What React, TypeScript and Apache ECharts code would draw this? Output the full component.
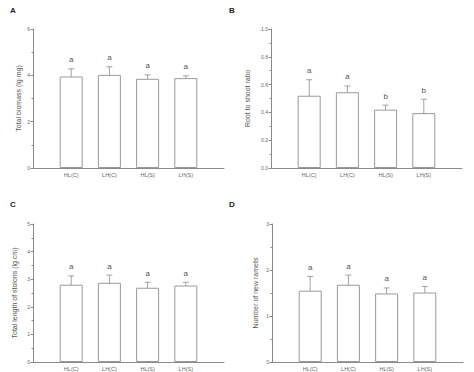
import React, { useEffect, useRef } from "react";
import * as echarts from "echarts";

const categories = ["HL(C)", "LH(C)", "HL(S)", "LH(S)"];
const xPositions = [1, 2, 3, 4];

const biomass = [3.95, 4.02, 3.85, 3.88];
const biomassErr = [0.33, 0.35, 0.17, 0.1];
const biomassLetters = ["a", "a", "a", "a"];

const rootShoot = [0.52, 0.545, 0.42, 0.395];
const rootShootErr = [0.115, 0.045, 0.032, 0.1];
const rootShootLetters = ["a", "a", "b", "b"];

const stolonLength = [2.8, 2.87, 2.69, 2.77];
const stolonLengthErr = [0.32, 0.28, 0.2, 0.12];
const stolonLetters = ["a", "a", "a", "a"];

const newRamets = [1.55, 1.68, 1.49, 1.51];
const newRametsErr = [0.31, 0.21, 0.12, 0.13];
const rametLetters = ["a", "a", "a", "a"];

const panelLetters = ["A", "B", "C", "D"];
const yNames = [
  "Total biomass (lg mg)",
  "Root to shoot ratio",
  "Total length of stolons (lg cm)",
  "Number of new ramets",
];
const yMax = [6, 1.0, 5, 3];
const yInterval = [2, 0.2, 1, 1];

const FONT = "Liberation Sans, Arial, sans-serif";
const AXIS = "#8a8a8a";
const TEXT = "#666";

export default function App() {
  const ref = useRef<HTMLDivElement>(null);
  useEffect(() => {
    if (!ref.current) return;
    const chart = echarts.init(ref.current, null, { renderer: "svg" });
    const values = [biomass, rootShoot, stolonLength, newRamets];
    const errs = [biomassErr, rootShootErr, stolonLengthErr, newRametsErr];
    const letters = [biomassLetters, rootShootLetters, stolonLetters, rametLetters];
    const grids = [
      { left: 33, top: 29, width: 191, height: 139 },
      { left: 271, top: 29, width: 191, height: 139 },
      { left: 33, top: 224, width: 191, height: 139 },
      { left: 272, top: 224, width: 191, height: 139 },
    ];
    const nameGaps = [11, 20, 15, 13];
    const labelPos = [
      [10, 6],
      [229, 6],
      [10, 200],
      [229, 200],
    ];
    const xAxis = grids.map((_, i) => ({
      type: "value",
      gridIndex: i,
      min: 0,
      max: 5,
      interval: 1,
      axisLine: { lineStyle: { color: AXIS, width: 1 } },
      axisTick: { show: false },
      splitLine: { show: false },
      axisLabel: {
        fontSize: 5.5,
        color: TEXT,
        fontFamily: FONT,
        margin: 4,
        formatter: (v: number) => categories[xPositions.indexOf(v)] ?? "",
      },
    }));
    const yAxis = grids.map((_, i) => ({
      type: "value",
      gridIndex: i,
      min: 0,
      max: yMax[i],
      interval: yInterval[i],
      name: yNames[i],
      nameLocation: "middle",
      nameRotate: 90,
      nameGap: nameGaps[i],
      nameTextStyle: { fontSize: 7, color: "#555", fontFamily: FONT },
      axisLine: { show: true, lineStyle: { color: AXIS, width: 1 } },
      axisTick: { show: true, length: 2.5, lineStyle: { color: AXIS } },
      minorTick: { show: true, splitNumber: 2, length: 1.5, lineStyle: { color: AXIS } },
      splitLine: { show: false },
      axisLabel: {
        fontSize: 5,
        color: TEXT,
        fontFamily: FONT,
        margin: 3,
        formatter: (v: number) => (i === 1 ? v.toFixed(1) : String(v)),
      },
    }));
    const series: any[] = [];
    values.forEach((vals, i) => {
      series.push({
        type: "bar",
        xAxisIndex: i,
        yAxisIndex: i,
        barWidth: 23,
        data: vals.map((v, k) => [xPositions[k], v]),
        itemStyle: { color: "#fff", borderColor: "#999", borderWidth: 1 },
      });
      series.push({
        type: "custom",
        xAxisIndex: i,
        yAxisIndex: i,
        itemStyle: { color: "#555" },
        data: vals.map((v, k) => [xPositions[k], v, errs[i][k], k]),
        renderItem: (params: any, api: any) => {
          const x = api.value(0);
          const v = api.value(1);
          const e = api.value(2);
          const k = api.value(3);
          const top = api.coord([x, v + e]);
          const bot = api.coord([x, v - e]);
          const cw = 3;
          const ls = { stroke: "#8a8a8a", lineWidth: 0.8 };
          return {
            type: "group",
            children: [
              { type: "line", shape: { x1: top[0], y1: top[1], x2: bot[0], y2: bot[1] }, style: ls },
              { type: "line", shape: { x1: top[0] - cw, y1: top[1], x2: top[0] + cw, y2: top[1] }, style: ls },
              { type: "line", shape: { x1: bot[0] - cw, y1: bot[1], x2: bot[0] + cw, y2: bot[1] }, style: ls },
              {
                type: "text",
                x: top[0],
                y: top[1] - 5,
                style: {
                  text: letters[i][k],
                  fontSize: 8,
                  fill: "#555",
                  fontFamily: FONT,
                  align: "center",
                  verticalAlign: "bottom",
                },
              },
            ],
          };
        },
      });
    });
    chart.setOption({
      animation: false,
      backgroundColor: "#fff",
      grid: grids,
      xAxis,
      yAxis,
      series,
      graphic: panelLetters.map((t, i) => ({
        type: "text",
        left: labelPos[i][0],
        top: labelPos[i][1],
        style: { text: t, fontSize: 8, fontWeight: "bold", fill: "#222", fontFamily: FONT },
      })),
    });
    return () => chart.dispose();
  }, []);
  return (
    <div
      ref={ref}
      style={{ position: "fixed", left: 0, top: 0, width: 474, height: 372, background: "#fff" }}
    />
  );
}
